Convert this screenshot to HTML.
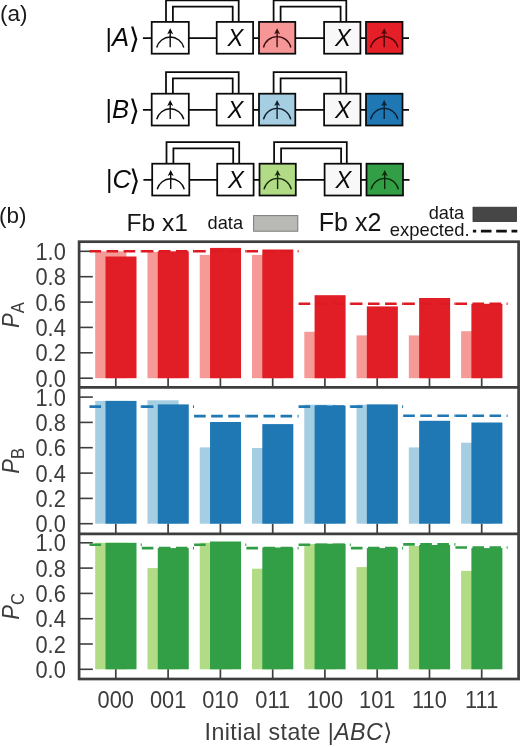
<!DOCTYPE html>
<html><head><meta charset="utf-8"><title>figure</title>
<style>
html,body{margin:0;padding:0;background:#fff;}
svg{display:block;font-family:"Liberation Sans", "DejaVu Sans", sans-serif;}
</style></head><body>
<svg width="520" height="747" viewBox="0 0 520 747">
<rect width="520" height="747" fill="#ffffff"/>
<g transform="translate(0,0)">
<path d="M142.9,38.0 H409" stroke="#0a0a0a" stroke-width="1.75" fill="none"/>
<path d="M166,21.9 V0.3 H238.7 V21.9" stroke="#0a0a0a" stroke-width="1.75" fill="none"/>
<path d="M172.9,21.9 V6.5 H232.7 V21.9" stroke="#0a0a0a" stroke-width="1.75" fill="none"/>
<path d="M273.6,21.9 V0.3 H346.3 V21.9" stroke="#0a0a0a" stroke-width="1.75" fill="none"/>
<path d="M280.6,21.9 V6.5 H340.6 V21.9" stroke="#0a0a0a" stroke-width="1.75" fill="none"/>
<rect x="151.7" y="21.9" width="37.1" height="31.8" fill="#ffffff" stroke="#0a0a0a" stroke-width="1.75"/>
<path d="M156.7,47.5 A14.0,14.0 0 0 1 183.8,47.5" fill="none" stroke="#0a0a0a" stroke-width="1.4"/>
<path d="M170.2,47.2 V31.9" fill="none" stroke="#0a0a0a" stroke-width="1.4"/>
<path d="M170.2,28.2 L173.2,34.2 L170.2,32.8 L167.2,34.2 Z" fill="#0a0a0a"/>
<rect x="216.7" y="21.9" width="36.4" height="31.8" fill="#ffffff" stroke="#0a0a0a" stroke-width="1.75"/>
<text x="235.5" y="46.1" font-size="23.8" font-style="italic" text-anchor="middle" fill="#0a0a0a">X</text>
<rect x="259" y="21.9" width="36.3" height="31.8" fill="#f69697" stroke="#0a0a0a" stroke-width="1.75"/>
<path d="M263.5,47.5 A14.0,14.0 0 0 1 290.8,47.5" fill="none" stroke="#3a1010" stroke-width="1.4"/>
<path d="M277.1,47.2 V31.9" fill="none" stroke="#3a1010" stroke-width="1.4"/>
<path d="M277.1,28.2 L280.1,34.2 L277.1,32.8 L274.1,34.2 Z" fill="#3a1010"/>
<rect x="324.1" y="21.9" width="36.3" height="31.8" fill="#f8f8f8" stroke="#0a0a0a" stroke-width="1.75"/>
<text x="342.9" y="46.1" font-size="23.8" font-style="italic" text-anchor="middle" fill="#0a0a0a">X</text>
<rect x="366" y="21.9" width="36.5" height="31.8" fill="#e41f28" stroke="#0a0a0a" stroke-width="1.75"/>
<path d="M370.6,47.5 A14.0,14.0 0 0 1 397.9,47.5" fill="none" stroke="#4a0808" stroke-width="1.4"/>
<path d="M384.2,47.2 V31.9" fill="none" stroke="#4a0808" stroke-width="1.4"/>
<path d="M384.2,28.2 L387.2,34.2 L384.2,32.8 L381.2,34.2 Z" fill="#4a0808"/>
<text x="105.6" y="46.5" font-size="25" fill="#0a0a0a">|</text>
<text x="112.0" y="45.7" font-size="25.6" font-style="italic" fill="#0a0a0a">A</text>
<text x="128.7" y="47.9" font-size="28.5" fill="#0a0a0a">⟩</text>
</g>
<g transform="translate(0,0)">
<path d="M142.9,109.8 H409" stroke="#0a0a0a" stroke-width="1.75" fill="none"/>
<path d="M166,93.7 V72.1 H238.7 V93.7" stroke="#0a0a0a" stroke-width="1.75" fill="none"/>
<path d="M172.9,93.7 V78.3 H232.7 V93.7" stroke="#0a0a0a" stroke-width="1.75" fill="none"/>
<path d="M273.6,93.7 V72.1 H346.3 V93.7" stroke="#0a0a0a" stroke-width="1.75" fill="none"/>
<path d="M280.6,93.7 V78.3 H340.6 V93.7" stroke="#0a0a0a" stroke-width="1.75" fill="none"/>
<rect x="151.7" y="93.7" width="37.1" height="31.8" fill="#ffffff" stroke="#0a0a0a" stroke-width="1.75"/>
<path d="M156.7,119.3 A14.0,14.0 0 0 1 183.8,119.3" fill="none" stroke="#0a0a0a" stroke-width="1.4"/>
<path d="M170.2,119.0 V103.7" fill="none" stroke="#0a0a0a" stroke-width="1.4"/>
<path d="M170.2,100.0 L173.2,106.0 L170.2,104.6 L167.2,106.0 Z" fill="#0a0a0a"/>
<rect x="216.7" y="93.7" width="36.4" height="31.8" fill="#ffffff" stroke="#0a0a0a" stroke-width="1.75"/>
<text x="235.5" y="117.9" font-size="23.8" font-style="italic" text-anchor="middle" fill="#0a0a0a">X</text>
<rect x="259" y="93.7" width="36.3" height="31.8" fill="#a6cee3" stroke="#0a0a0a" stroke-width="1.75"/>
<path d="M263.5,119.3 A14.0,14.0 0 0 1 290.8,119.3" fill="none" stroke="#10202a" stroke-width="1.4"/>
<path d="M277.1,119.0 V103.7" fill="none" stroke="#10202a" stroke-width="1.4"/>
<path d="M277.1,100.0 L280.1,106.0 L277.1,104.6 L274.1,106.0 Z" fill="#10202a"/>
<rect x="324.1" y="93.7" width="36.3" height="31.8" fill="#f8f8f8" stroke="#0a0a0a" stroke-width="1.75"/>
<text x="342.9" y="117.9" font-size="23.8" font-style="italic" text-anchor="middle" fill="#0a0a0a">X</text>
<rect x="366" y="93.7" width="36.5" height="31.8" fill="#1f78b4" stroke="#0a0a0a" stroke-width="1.75"/>
<path d="M370.6,119.3 A14.0,14.0 0 0 1 397.9,119.3" fill="none" stroke="#0a2036" stroke-width="1.4"/>
<path d="M384.2,119.0 V103.7" fill="none" stroke="#0a2036" stroke-width="1.4"/>
<path d="M384.2,100.0 L387.2,106.0 L384.2,104.6 L381.2,106.0 Z" fill="#0a2036"/>
<text x="105.6" y="118.3" font-size="25" fill="#0a0a0a">|</text>
<text x="112.0" y="117.5" font-size="25.6" font-style="italic" fill="#0a0a0a">B</text>
<text x="128.7" y="119.7" font-size="28.5" fill="#0a0a0a">⟩</text>
</g>
<g transform="translate(0.5,0)">
<path d="M142.9,179.8 H409" stroke="#0a0a0a" stroke-width="1.75" fill="none"/>
<path d="M166,163.7 V142.1 H238.7 V163.7" stroke="#0a0a0a" stroke-width="1.75" fill="none"/>
<path d="M172.9,163.7 V148.3 H232.7 V163.7" stroke="#0a0a0a" stroke-width="1.75" fill="none"/>
<path d="M273.6,163.7 V142.1 H346.3 V163.7" stroke="#0a0a0a" stroke-width="1.75" fill="none"/>
<path d="M280.6,163.7 V148.3 H340.6 V163.7" stroke="#0a0a0a" stroke-width="1.75" fill="none"/>
<rect x="151.7" y="163.7" width="37.1" height="31.8" fill="#ffffff" stroke="#0a0a0a" stroke-width="1.75"/>
<path d="M156.7,189.3 A14.0,14.0 0 0 1 183.8,189.3" fill="none" stroke="#0a0a0a" stroke-width="1.4"/>
<path d="M170.2,189.0 V173.7" fill="none" stroke="#0a0a0a" stroke-width="1.4"/>
<path d="M170.2,170.0 L173.2,176.0 L170.2,174.6 L167.2,176.0 Z" fill="#0a0a0a"/>
<rect x="216.7" y="163.7" width="36.4" height="31.8" fill="#ffffff" stroke="#0a0a0a" stroke-width="1.75"/>
<text x="235.5" y="187.9" font-size="23.8" font-style="italic" text-anchor="middle" fill="#0a0a0a">X</text>
<rect x="259" y="163.7" width="36.3" height="31.8" fill="#b2db86" stroke="#0a0a0a" stroke-width="1.75"/>
<path d="M263.5,189.3 A14.0,14.0 0 0 1 290.8,189.3" fill="none" stroke="#1a2a10" stroke-width="1.4"/>
<path d="M277.1,189.0 V173.7" fill="none" stroke="#1a2a10" stroke-width="1.4"/>
<path d="M277.1,170.0 L280.1,176.0 L277.1,174.6 L274.1,176.0 Z" fill="#1a2a10"/>
<rect x="324.1" y="163.7" width="36.3" height="31.8" fill="#f8f8f8" stroke="#0a0a0a" stroke-width="1.75"/>
<text x="342.9" y="187.9" font-size="23.8" font-style="italic" text-anchor="middle" fill="#0a0a0a">X</text>
<rect x="366" y="163.7" width="36.5" height="31.8" fill="#329e46" stroke="#0a0a0a" stroke-width="1.75"/>
<path d="M370.6,189.3 A14.0,14.0 0 0 1 397.9,189.3" fill="none" stroke="#0a2a0a" stroke-width="1.4"/>
<path d="M384.2,189.0 V173.7" fill="none" stroke="#0a2a0a" stroke-width="1.4"/>
<path d="M384.2,170.0 L387.2,176.0 L384.2,174.6 L381.2,176.0 Z" fill="#0a2a0a"/>
<text x="105.6" y="188.3" font-size="25" fill="#0a0a0a">|</text>
<text x="112.0" y="187.5" font-size="25.6" font-style="italic" fill="#0a0a0a">C</text>
<text x="128.7" y="189.7" font-size="28.5" fill="#0a0a0a">⟩</text>
</g>
<text x="0" y="21.3" font-size="22.5" fill="#1a1a1a">(a)</text>
<text x="-1" y="223.2" font-size="22.5" fill="#1a1a1a">(b)</text>
<text x="126.6" y="231.3" font-size="24.5" fill="#151515">Fb x1</text>
<text x="207.6" y="228.6" font-size="18.2" fill="#151515">data</text>
<rect x="253.6" y="215.6" width="44.2" height="15.6" fill="#b9b9b6" stroke="#7a7a7a" stroke-width="1"/>
<text x="318.8" y="231.3" font-size="25" fill="#151515">Fb x2</text>
<text x="428.7" y="219" font-size="18.2" fill="#151515">data</text>
<rect x="473" y="207.2" width="43.6" height="14.4" fill="#464646" stroke="#333333" stroke-width="0.8"/>
<text x="389.8" y="235.6" font-size="18.4" fill="#151515">expected.</text>
<path d="M472.9,231.1 H517.3" stroke="#111" stroke-width="2.8" stroke-dasharray="10.6,4.7" stroke-dashoffset="7.3" fill="none"/>
<path d="M115.8,387.4 V375.2" stroke="#3e3e3e" stroke-width="1.7"/>
<path d="M168.1,387.4 V375.2" stroke="#3e3e3e" stroke-width="1.7"/>
<path d="M220.4,387.4 V375.2" stroke="#3e3e3e" stroke-width="1.7"/>
<path d="M272.7,387.4 V375.2" stroke="#3e3e3e" stroke-width="1.7"/>
<path d="M324.9,387.4 V375.2" stroke="#3e3e3e" stroke-width="1.7"/>
<path d="M377.2,387.4 V375.2" stroke="#3e3e3e" stroke-width="1.7"/>
<path d="M429.5,387.4 V375.2" stroke="#3e3e3e" stroke-width="1.7"/>
<path d="M481.7,387.4 V375.2" stroke="#3e3e3e" stroke-width="1.7"/>
<path d="M79.1,378.2 H92.8" stroke="#3e3e3e" stroke-width="1.6"/>
<text transform="translate(65.8,386.7) scale(0.95,1)" font-size="23" text-anchor="end" fill="#3c3c3c">0.0</text>
<path d="M79.1,352.8 H92.8" stroke="#3e3e3e" stroke-width="1.6"/>
<text transform="translate(65.8,361.3) scale(0.95,1)" font-size="23" text-anchor="end" fill="#3c3c3c">0.2</text>
<path d="M79.1,327.4 H92.8" stroke="#3e3e3e" stroke-width="1.6"/>
<text transform="translate(65.8,335.9) scale(0.95,1)" font-size="23" text-anchor="end" fill="#3c3c3c">0.4</text>
<path d="M79.1,302.1 H92.8" stroke="#3e3e3e" stroke-width="1.6"/>
<text transform="translate(65.8,310.6) scale(0.95,1)" font-size="23" text-anchor="end" fill="#3c3c3c">0.6</text>
<path d="M79.1,276.7 H92.8" stroke="#3e3e3e" stroke-width="1.6"/>
<text transform="translate(65.8,285.2) scale(0.95,1)" font-size="23" text-anchor="end" fill="#3c3c3c">0.8</text>
<path d="M79.1,251.3 H92.8" stroke="#3e3e3e" stroke-width="1.6"/>
<text transform="translate(65.8,259.8) scale(0.95,1)" font-size="23" text-anchor="end" fill="#3c3c3c">1.0</text>
<rect x="95.20" y="251.3" width="31.2" height="126.9" fill="#f69a98"/>
<rect x="105.50" y="256.5" width="31.0" height="121.7" fill="#e11d25"/>
<path d="M89.5,251.3 H141.8" stroke="#dd1a22" stroke-width="2.6" stroke-dasharray="11.6,5.47" fill="none"/>
<rect x="147.47" y="251.9" width="31.2" height="126.3" fill="#f69a98"/>
<rect x="157.77" y="251.3" width="31.0" height="126.9" fill="#e11d25"/>
<path d="M141.8,251.3 H194.0" stroke="#dd1a22" stroke-width="2.6" stroke-dasharray="11.6,5.47" fill="none"/>
<rect x="199.74" y="254.9" width="31.2" height="123.3" fill="#f69a98"/>
<rect x="210.04" y="247.9" width="31.0" height="130.3" fill="#e11d25"/>
<path d="M194.1,251.3 H246.3" stroke="#dd1a22" stroke-width="2.6" stroke-dasharray="11.6,5.47" fill="none"/>
<rect x="252.01" y="254.9" width="31.2" height="123.3" fill="#f69a98"/>
<rect x="262.31" y="249.5" width="31.0" height="128.7" fill="#e11d25"/>
<path d="M246.4,251.3 H298.6" stroke="#dd1a22" stroke-width="2.6" stroke-dasharray="11.6,5.47" fill="none"/>
<rect x="304.28" y="331.8" width="31.2" height="46.4" fill="#f69a98"/>
<rect x="314.58" y="295.2" width="31.0" height="83.0" fill="#e11d25"/>
<path d="M298.6,303.8 H350.8" stroke="#dd1a22" stroke-width="2.6" stroke-dasharray="11.6,5.47" fill="none"/>
<rect x="356.55" y="335.4" width="31.2" height="42.8" fill="#f69a98"/>
<rect x="366.85" y="306.4" width="31.0" height="71.8" fill="#e11d25"/>
<path d="M350.9,303.8 H403.1" stroke="#dd1a22" stroke-width="2.6" stroke-dasharray="11.6,5.47" fill="none"/>
<rect x="408.82" y="335.4" width="31.2" height="42.8" fill="#f69a98"/>
<rect x="419.12" y="298.0" width="31.0" height="80.2" fill="#e11d25"/>
<path d="M403.2,303.8 H455.4" stroke="#dd1a22" stroke-width="2.6" stroke-dasharray="11.6,5.47" fill="none"/>
<rect x="461.09" y="331.2" width="31.2" height="47.0" fill="#f69a98"/>
<rect x="471.39" y="303.8" width="31.0" height="74.4" fill="#e11d25"/>
<path d="M455.4,303.8 H507.6" stroke="#dd1a22" stroke-width="2.6" stroke-dasharray="11.6,5.47" fill="none"/>
<text transform="translate(19,315.1) rotate(-90) scale(0.92,1)" font-size="24" text-anchor="middle" fill="#3c3c3c"><tspan font-style="italic">P</tspan><tspan font-size="18" dy="4.9">A</tspan></text>
<path d="M115.8,533.8 V520.7" stroke="#3e3e3e" stroke-width="1.7"/>
<path d="M168.1,533.8 V520.7" stroke="#3e3e3e" stroke-width="1.7"/>
<path d="M220.4,533.8 V520.7" stroke="#3e3e3e" stroke-width="1.7"/>
<path d="M272.7,533.8 V520.7" stroke="#3e3e3e" stroke-width="1.7"/>
<path d="M324.9,533.8 V520.7" stroke="#3e3e3e" stroke-width="1.7"/>
<path d="M377.2,533.8 V520.7" stroke="#3e3e3e" stroke-width="1.7"/>
<path d="M429.5,533.8 V520.7" stroke="#3e3e3e" stroke-width="1.7"/>
<path d="M481.7,533.8 V520.7" stroke="#3e3e3e" stroke-width="1.7"/>
<path d="M79.1,523.7 H92.8" stroke="#3e3e3e" stroke-width="1.6"/>
<text transform="translate(65.8,532.2) scale(0.95,1)" font-size="23" text-anchor="end" fill="#3c3c3c">0.0</text>
<path d="M79.1,498.4 H92.8" stroke="#3e3e3e" stroke-width="1.6"/>
<text transform="translate(65.8,506.9) scale(0.95,1)" font-size="23" text-anchor="end" fill="#3c3c3c">0.2</text>
<path d="M79.1,473.1 H92.8" stroke="#3e3e3e" stroke-width="1.6"/>
<text transform="translate(65.8,481.6) scale(0.95,1)" font-size="23" text-anchor="end" fill="#3c3c3c">0.4</text>
<path d="M79.1,447.7 H92.8" stroke="#3e3e3e" stroke-width="1.6"/>
<text transform="translate(65.8,456.2) scale(0.95,1)" font-size="23" text-anchor="end" fill="#3c3c3c">0.6</text>
<path d="M79.1,422.4 H92.8" stroke="#3e3e3e" stroke-width="1.6"/>
<text transform="translate(65.8,430.9) scale(0.95,1)" font-size="23" text-anchor="end" fill="#3c3c3c">0.8</text>
<path d="M79.1,397.1 H92.8" stroke="#3e3e3e" stroke-width="1.6"/>
<text transform="translate(65.8,405.6) scale(0.95,1)" font-size="23" text-anchor="end" fill="#3c3c3c">1.0</text>
<rect x="95.20" y="400.9" width="31.2" height="122.8" fill="#a6cee3"/>
<rect x="105.50" y="400.9" width="31.0" height="122.8" fill="#1f78b4"/>
<path d="M89.5,406.6 H141.8" stroke="#1f77b3" stroke-width="2.6" stroke-dasharray="11.6,5.47" fill="none"/>
<rect x="147.47" y="400.3" width="31.2" height="123.4" fill="#a6cee3"/>
<rect x="157.77" y="404.4" width="31.0" height="119.3" fill="#1f78b4"/>
<path d="M141.8,406.6 H194.0" stroke="#1f77b3" stroke-width="2.6" stroke-dasharray="11.6,5.47" fill="none"/>
<rect x="199.74" y="447.4" width="31.2" height="76.3" fill="#a6cee3"/>
<rect x="210.04" y="422.0" width="31.0" height="101.7" fill="#1f78b4"/>
<path d="M194.1,416.1 H246.3" stroke="#1f77b3" stroke-width="2.6" stroke-dasharray="11.6,5.47" fill="none"/>
<rect x="252.01" y="448.0" width="31.2" height="75.7" fill="#a6cee3"/>
<rect x="262.31" y="424.1" width="31.0" height="99.6" fill="#1f78b4"/>
<path d="M246.4,416.1 H298.6" stroke="#1f77b3" stroke-width="2.6" stroke-dasharray="11.6,5.47" fill="none"/>
<rect x="304.28" y="404.7" width="31.2" height="119.0" fill="#a6cee3"/>
<rect x="314.58" y="405.6" width="31.0" height="118.1" fill="#1f78b4"/>
<path d="M298.6,406.6 H350.8" stroke="#1f77b3" stroke-width="2.6" stroke-dasharray="11.6,5.47" fill="none"/>
<rect x="356.55" y="404.7" width="31.2" height="119.0" fill="#a6cee3"/>
<rect x="366.85" y="404.4" width="31.0" height="119.3" fill="#1f78b4"/>
<path d="M350.9,406.6 H403.1" stroke="#1f77b3" stroke-width="2.6" stroke-dasharray="11.6,5.47" fill="none"/>
<rect x="408.82" y="447.4" width="31.2" height="76.3" fill="#a6cee3"/>
<rect x="419.12" y="420.8" width="31.0" height="102.9" fill="#1f78b4"/>
<path d="M403.2,415.8 H455.4" stroke="#1f77b3" stroke-width="2.6" stroke-dasharray="11.6,5.47" fill="none"/>
<rect x="461.09" y="442.7" width="31.2" height="81.0" fill="#a6cee3"/>
<rect x="471.39" y="422.5" width="31.0" height="101.2" fill="#1f78b4"/>
<path d="M455.4,415.8 H507.6" stroke="#1f77b3" stroke-width="2.6" stroke-dasharray="11.6,5.47" fill="none"/>
<text transform="translate(19,460.8) rotate(-90) scale(0.92,1)" font-size="24" text-anchor="middle" fill="#3c3c3c"><tspan font-style="italic">P</tspan><tspan font-size="18" dy="4.9">B</tspan></text>
<path d="M115.8,679.0 V666.3" stroke="#3e3e3e" stroke-width="1.7"/>
<path d="M168.1,679.0 V666.3" stroke="#3e3e3e" stroke-width="1.7"/>
<path d="M220.4,679.0 V666.3" stroke="#3e3e3e" stroke-width="1.7"/>
<path d="M272.7,679.0 V666.3" stroke="#3e3e3e" stroke-width="1.7"/>
<path d="M324.9,679.0 V666.3" stroke="#3e3e3e" stroke-width="1.7"/>
<path d="M377.2,679.0 V666.3" stroke="#3e3e3e" stroke-width="1.7"/>
<path d="M429.5,679.0 V666.3" stroke="#3e3e3e" stroke-width="1.7"/>
<path d="M481.7,679.0 V666.3" stroke="#3e3e3e" stroke-width="1.7"/>
<path d="M79.1,669.3 H92.8" stroke="#3e3e3e" stroke-width="1.6"/>
<text transform="translate(65.8,677.8) scale(0.95,1)" font-size="23" text-anchor="end" fill="#3c3c3c">0.0</text>
<path d="M79.1,644.0 H92.8" stroke="#3e3e3e" stroke-width="1.6"/>
<text transform="translate(65.8,652.5) scale(0.95,1)" font-size="23" text-anchor="end" fill="#3c3c3c">0.2</text>
<path d="M79.1,618.7 H92.8" stroke="#3e3e3e" stroke-width="1.6"/>
<text transform="translate(65.8,627.2) scale(0.95,1)" font-size="23" text-anchor="end" fill="#3c3c3c">0.4</text>
<path d="M79.1,593.4 H92.8" stroke="#3e3e3e" stroke-width="1.6"/>
<text transform="translate(65.8,601.9) scale(0.95,1)" font-size="23" text-anchor="end" fill="#3c3c3c">0.6</text>
<path d="M79.1,568.1 H92.8" stroke="#3e3e3e" stroke-width="1.6"/>
<text transform="translate(65.8,576.6) scale(0.95,1)" font-size="23" text-anchor="end" fill="#3c3c3c">0.8</text>
<path d="M79.1,542.8 H92.8" stroke="#3e3e3e" stroke-width="1.6"/>
<text transform="translate(65.8,551.3) scale(0.95,1)" font-size="23" text-anchor="end" fill="#3c3c3c">1.0</text>
<rect x="95.20" y="542.8" width="31.2" height="126.5" fill="#b2db86"/>
<rect x="105.50" y="542.8" width="31.0" height="126.5" fill="#329e46"/>
<path d="M89.5,544.8 H141.8" stroke="#319d45" stroke-width="2.6" stroke-dasharray="11.6,5.47" fill="none"/>
<rect x="147.47" y="568.1" width="31.2" height="101.2" fill="#b2db86"/>
<rect x="157.77" y="548.1" width="31.0" height="121.2" fill="#329e46"/>
<path d="M141.8,548.1 H194.0" stroke="#319d45" stroke-width="2.6" stroke-dasharray="11.6,5.47" fill="none"/>
<rect x="199.74" y="542.8" width="31.2" height="126.5" fill="#b2db86"/>
<rect x="210.04" y="541.5" width="31.0" height="127.8" fill="#329e46"/>
<path d="M194.1,544.8 H246.3" stroke="#319d45" stroke-width="2.6" stroke-dasharray="11.6,5.47" fill="none"/>
<rect x="252.01" y="568.7" width="31.2" height="100.6" fill="#b2db86"/>
<rect x="262.31" y="547.5" width="31.0" height="121.8" fill="#329e46"/>
<path d="M246.4,548.1 H298.6" stroke="#319d45" stroke-width="2.6" stroke-dasharray="11.6,5.47" fill="none"/>
<rect x="304.28" y="544.1" width="31.2" height="125.2" fill="#b2db86"/>
<rect x="314.58" y="543.7" width="31.0" height="125.6" fill="#329e46"/>
<path d="M298.6,544.8 H350.8" stroke="#319d45" stroke-width="2.6" stroke-dasharray="11.6,5.47" fill="none"/>
<rect x="356.55" y="567.1" width="31.2" height="102.2" fill="#b2db86"/>
<rect x="366.85" y="548.1" width="31.0" height="121.2" fill="#329e46"/>
<path d="M350.9,548.1 H403.1" stroke="#319d45" stroke-width="2.6" stroke-dasharray="11.6,5.47" fill="none"/>
<rect x="408.82" y="546.0" width="31.2" height="123.3" fill="#b2db86"/>
<rect x="419.12" y="545.0" width="31.0" height="124.3" fill="#329e46"/>
<path d="M403.2,544.4 H455.4" stroke="#319d45" stroke-width="2.6" stroke-dasharray="11.6,5.47" fill="none"/>
<rect x="461.09" y="570.9" width="31.2" height="98.4" fill="#b2db86"/>
<rect x="471.39" y="548.1" width="31.0" height="121.2" fill="#329e46"/>
<path d="M455.4,547.5 H507.6" stroke="#319d45" stroke-width="2.6" stroke-dasharray="11.6,5.47" fill="none"/>
<text transform="translate(19,606.4) rotate(-90) scale(0.92,1)" font-size="24" text-anchor="middle" fill="#3c3c3c"><tspan font-style="italic">P</tspan><tspan font-size="18" dy="4.9">C</tspan></text>
<rect x="79.1" y="241.7" width="439.5" height="437.3" fill="none" stroke="#3e3e3e" stroke-width="2.7"/>
<path d="M79.1,387.4 H518.6 M79.1,533.8 H518.6" stroke="#3e3e3e" stroke-width="2.7"/>
<text transform="translate(115.8,708.3) scale(0.95,1)" font-size="23" text-anchor="middle" fill="#3c3c3c">000</text>
<text transform="translate(168.1,708.3) scale(0.95,1)" font-size="23" text-anchor="middle" fill="#3c3c3c">001</text>
<text transform="translate(220.4,708.3) scale(0.95,1)" font-size="23" text-anchor="middle" fill="#3c3c3c">010</text>
<text transform="translate(272.7,708.3) scale(0.95,1)" font-size="23" text-anchor="middle" fill="#3c3c3c">011</text>
<text transform="translate(324.9,708.3) scale(0.95,1)" font-size="23" text-anchor="middle" fill="#3c3c3c">100</text>
<text transform="translate(377.2,708.3) scale(0.95,1)" font-size="23" text-anchor="middle" fill="#3c3c3c">101</text>
<text transform="translate(429.5,708.3) scale(0.95,1)" font-size="23" text-anchor="middle" fill="#3c3c3c">110</text>
<text transform="translate(481.7,708.3) scale(0.95,1)" font-size="23" text-anchor="middle" fill="#3c3c3c">111</text>
<text x="298.6" y="740.4" font-size="23.2" letter-spacing="0.42" text-anchor="middle" fill="#3c3c3c">Initial state |<tspan font-style="italic">ABC</tspan>⟩</text>
</svg>
</body></html>
